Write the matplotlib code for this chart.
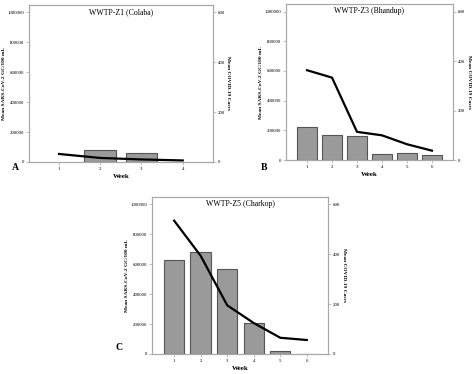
import matplotlib
matplotlib.use("Agg")
from matplotlib import pyplot as plt

# weekly means
weeks_a = [1, 2, 3, 4]
bars_weeks_a = [2, 3]
gc_a = [80000, 62000]
cases_a = [32, 16, 10, 6]

weeks_b = [1, 2, 3, 4, 5, 6]
gc_b = [221000, 171000, 165000, 41000, 49000, 31000]
cases_b = [363, 333, 114, 100, 64, 38]

weeks_c = [1, 2, 3, 4, 5, 6]
gc_c = [628000, 679000, 570000, 209000, 20000, 3000]
cases_c = [534, 393, 195, 124, 65, 56]

gc_ticks = [0, 200000, 400000, 600000, 800000, 1000000]
case_ticks = [0, 200, 400, 600]

plt.rcParams['font.family'] = ['Liberation Serif', 'DejaVu Serif']

SPINE = '#a8a8a8'
BAR = '#9a9a9a'


def panel(fig, rect, title, bar_x, bar_y, line_x, line_y, ticks, xlim):
    ax = fig.add_axes(rect)
    ax.bar(bar_x, bar_y, width=0.77, color=BAR, edgecolor='#555555', linewidth=0.8)
    ax.set_ylim(0, 1050000)
    ax.set_xlim(*xlim)
    ax.set_xticks(ticks)
    ax.set_xticklabels([str(t) for t in ticks])
    ax.set_yticks(gc_ticks)
    ax.set_yticklabels([str(t) for t in gc_ticks])
    ax.tick_params(labelsize=3.5, length=2, width=0.5, color=SPINE, pad=1.5)
    ax.set_ylabel("Mean SARS-CoV-2 GC/100 mL", fontsize=3.9, fontweight='bold', labelpad=1)
    ax.set_xlabel("Week", fontsize=5, fontweight='bold', labelpad=2)
    ax.text(0.5, 0.955, title, transform=ax.transAxes, ha='center', va='center', fontsize=5.6)
    for s in ax.spines.values():
        s.set_color(SPINE)
        s.set_linewidth(0.8)

    ax2 = ax.twinx()
    ax2.plot(line_x, line_y, color='black', linewidth=1.6)
    ax2.set_ylim(0, 630)
    ax2.set_yticks(case_ticks)
    ax2.set_yticklabels([str(t) for t in case_ticks])
    ax2.tick_params(labelsize=3.5, length=2, width=0.5, color=SPINE, pad=1.5)
    ax2.set_ylabel("Mean COVID-19 Cases", fontsize=3.9, fontweight='bold', rotation=-90, labelpad=4)
    for s in ax2.spines.values():
        s.set_color(SPINE)
        s.set_linewidth(0.8)
    return ax


fig = plt.figure(figsize=(4.74, 3.74), dpi=100)

panel(fig, [0.061, 0.567, 0.388, 0.42], "WWTP-Z1 (Colaba)",
      bars_weeks_a, gc_a, weeks_a, cases_a, weeks_a, (0.27, 4.73))
panel(fig, [0.603, 0.572, 0.353, 0.417], "WWTP-Z3 (Bhandup)",
      weeks_b, gc_b, weeks_b, cases_b, weeks_b, (0.15, 6.85))
panel(fig, [0.321, 0.0535, 0.371, 0.4206], "WWTP-Z5 (Charkop)",
      weeks_c, gc_c, weeks_c, cases_c, weeks_c, (0.17, 6.8))

fig.text(15 / 474, 1 - 168 / 374, "A", fontsize=7, fontweight='bold', ha='center', va='center')
fig.text(264 / 474, 1 - 167 / 374, "B", fontsize=7, fontweight='bold', ha='center', va='center')
fig.text(119 / 474, 1 - 348 / 374, "C", fontsize=7, fontweight='bold', ha='center', va='center')

fig.savefig("out.png", dpi=100)
